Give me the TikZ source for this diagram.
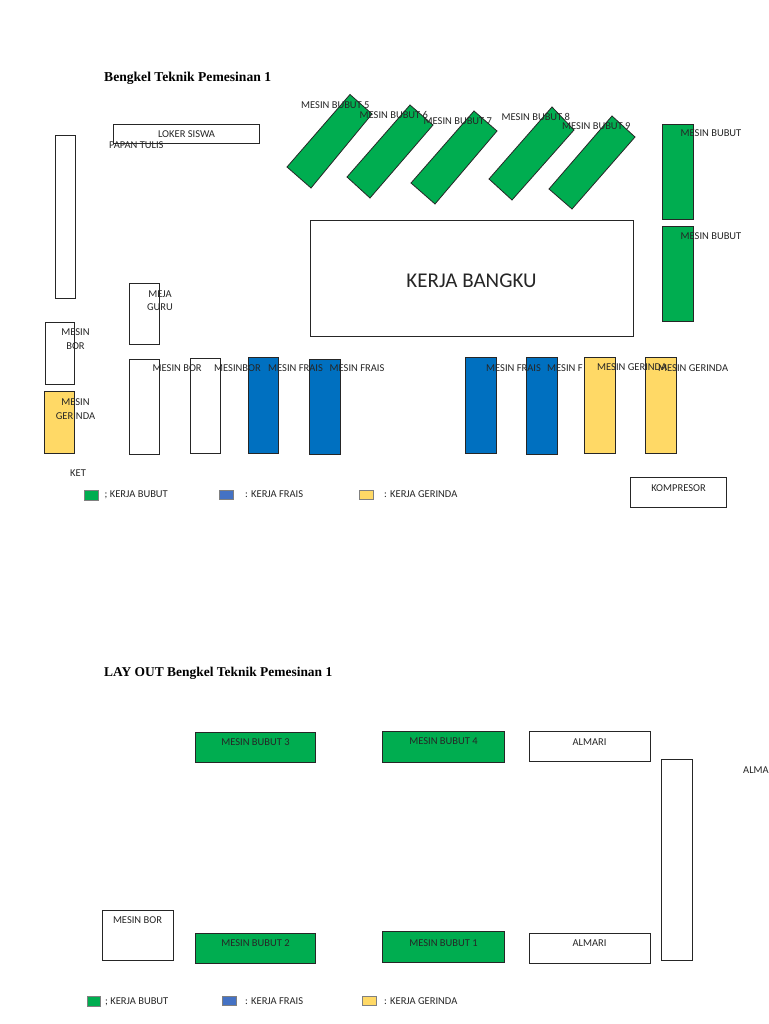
\documentclass[tikz,border=0pt]{standalone}
\usepackage{fontspec}
\setmainfont{Carlito}
\newfontfamily\titlefont{Liberation Serif}
\definecolor{gb}{HTML}{00AD50}
\definecolor{bl}{HTML}{0070C0}
\definecolor{ye}{HTML}{FFD966}
\definecolor{lb}{HTML}{4472C4}
\definecolor{ink}{HTML}{262626}
\tikzset{
  x=1pt,y=-1pt,
  whitebox/.style={draw=ink,line width=0.8pt,fill=white},
  greenbox/.style={draw=ink,line width=0.8pt,fill=gb},
  bluebox/.style={draw=ink,line width=0.8pt,fill=bl},
  yellowbox/.style={draw=ink,line width=0.8pt,fill=ye},
  keyblue/.style={draw=gray,line width=0.6pt,fill=lb},
  keygreen/.style={draw=gray,line width=0.6pt,fill=gb},
  keyyellow/.style={draw=gray,line width=0.6pt,fill=ye},
  lbl/.style={anchor=west,inner sep=0pt,yshift=-0.7pt,text height=6.4pt,text depth=0pt,font=\fontsize{10.5}{12}\selectfont,text=ink},
  clbl/.style={anchor=center,inner sep=0pt,yshift=-0.7pt,font=\fontsize{10.5}{12}\selectfont,text=ink,align=center},
  ttl/.style={anchor=west,inner sep=0pt,text height=8.8pt,text depth=0pt,font=\titlefont\bfseries\fontsize{13.6}{15}\selectfont,text=black},
}
\newcommand{\rb}[6]{\node[#1,minimum width=#4pt-#2pt-0.3pt,minimum height=#5pt-#3pt-0.3pt,inner sep=0pt,outer sep=0pt,anchor=north west] (#6) at (#2,#3) {};}
\begin{document}
\begin{tikzpicture}
\useasboundingbox (0,0) rectangle (768,1024);
\fill[white] (0,0) rectangle (768,1024);
% top plan
\rb{whitebox}{55}{135}{76}{299}{papan}
\rb{whitebox}{113}{124}{260}{144}{loker}
\rb{whitebox}{310}{220}{634}{337}{bangku}
\rb{greenbox}{662}{124}{694}{220}{bubutA}
\rb{greenbox}{662}{226}{694}{322}{bubutB}
\rb{whitebox}{129}{283}{160}{345}{meja}
\rb{whitebox}{45}{322}{75}{385}{borA}
\rb{yellowbox}{44}{391}{75}{454}{gerA}
\rb{whitebox}{129}{359}{160}{455}{borB}
\rb{whitebox}{190}{358}{221}{454}{borC}
\rb{bluebox}{248}{357}{279}{454}{frA}
\rb{bluebox}{309}{359}{341}{455}{frB}
\rb{bluebox}{465}{357}{497}{454}{frC}
\rb{bluebox}{526}{357}{558}{455}{frD}
\rb{yellowbox}{584}{357}{616}{454}{gerB}
\rb{yellowbox}{645}{357}{677}{454}{gerC}
\rb{whitebox}{630}{477}{727}{508}{komp}
\rb{keygreen}{84}{490}{99}{501}{kgA}
\rb{keyblue}{219}{490}{234}{500}{kbA}
\rb{keyyellow}{359}{490}{374}{500}{kyA}
% angled lathes
\draw[greenbox] (350,94.5) -- (372,114) -- (311,188) -- (287,167) -- cycle;
\draw[greenbox] (410,105) -- (433,125) -- (370,198) -- (347,177) -- cycle;
\draw[greenbox] (474,111) -- (497,131) -- (435,204) -- (411,183) -- cycle;
\draw[greenbox] (552,107) -- (574,130) -- (512,200) -- (489,179) -- cycle;
\draw[greenbox] (612,116) -- (635,137) -- (572,209) -- (549,189) -- cycle;
% bottom plan
\rb{greenbox}{195}{732}{316}{763}{bubut3}
\rb{greenbox}{382}{731}{505}{763}{bubut4}
\rb{whitebox}{529}{731}{651}{762}{almA}
\rb{whitebox}{661}{759}{693}{961}{almB}
\rb{whitebox}{102}{910}{174}{961}{borD}
\rb{greenbox}{195}{933}{316}{964}{bubut2}
\rb{greenbox}{382}{931}{505}{963}{bubut1}
\rb{whitebox}{529}{933}{651}{964}{almC}
\rb{keygreen}{87}{996}{101}{1007}{kgB}
\rb{keyblue}{222}{996}{237}{1006}{kbB}
\rb{keyyellow}{362}{996}{377}{1006}{kyB}
% titles
\node[ttl] (t1) at (104,77.5) {Bengkel Teknik Pemesinan 1};
\node[ttl,font=\titlefont\bfseries\fontsize{13.45}{15}\selectfont] (t2) at (104,672) {LAY OUT Bengkel Teknik Pemesinan 1};
\node[clbl,yshift=0.7pt,font=\fontsize{21}{24}\selectfont] (tb) at (471.5,281) {KERJA BANGKU};
% labels top
\node[clbl] (a1) at (186.5,133) {LOKER SISWA};
\node[lbl] (a2) at (109,145) {PAPAN TULIS};
\node[lbl] (a3) at (301,105) {MESIN BUBUT 5};
\node[lbl] (a4) at (359.5,115) {MESIN BUBUT  6};
\node[lbl] (a5) at (423.5,121) {MESIN BUBUT  7};
\node[lbl] (a6) at (501.5,117) {MESIN BUBUT  8};
\node[lbl] (a7) at (562,126) {MESIN BUBUT 9};
\node[lbl] (a8) at (680.5,133) {MESIN BUBUT};
\node[lbl] (a9) at (680.5,235.5) {MESIN BUBUT};
\node[clbl] (a10) at (160,300) {MEJA\\[1.2pt]GURU};
\node[clbl] (a11) at (75.5,338.5) {MESIN\\[2pt]BOR};
\node[clbl] (a12) at (75.5,408.5) {MESIN\\[2pt]GERINDA};
\node[lbl] (a13) at (152.5,368) {MESIN BOR};
\node[lbl] (a14) at (214,368) {MESINBOR};
\node[lbl] (a15) at (268,368) {MESIN FRAIS};
\node[lbl] (a16) at (329.5,368) {MESIN FRAIS};
\node[lbl] (a17) at (486,368) {MESIN FRAIS};
\node[lbl] (a18) at (547,368) {MESIN F};
\node[lbl] (a19) at (597,367) {MESIN GERINDA};
\node[lbl] (a20) at (658,368) {MESIN GERINDA};
\node[lbl] (a21) at (70,472.5) {KET};
\node[lbl] (a22) at (104.5,493.5) {; KERJA BUBUT};
\node[lbl] (a23) at (245,493.5) {: KERJA FRAIS};
\node[lbl] (a24) at (384,493.5) {: KERJA GERINDA};
\node[clbl] (a25) at (678.5,487.5) {KOMPRESOR};
% labels bottom
\node[clbl] (b1) at (255.5,741.5) {MESIN BUBUT 3};
\node[clbl] (b2) at (443.5,740.5) {MESIN BUBUT 4};
\node[clbl] (b3) at (589.5,741) {ALMARI};
\node[lbl] (b4) at (743,770) {ALMA};
\node[clbl] (b5) at (137.5,919.5) {MESIN BOR};
\node[clbl] (b6) at (255.5,942) {MESIN BUBUT 2};
\node[clbl] (b7) at (443.5,942) {MESIN BUBUT 1};
\node[clbl] (b8) at (589.5,942) {ALMARI};
\node[lbl] (b9) at (105,1000.5) {; KERJA BUBUT};
\node[lbl] (b10) at (245,1000.5) {: KERJA FRAIS};
\node[lbl] (b11) at (384,1000.5) {: KERJA GERINDA};
\end{tikzpicture}
\end{document}
